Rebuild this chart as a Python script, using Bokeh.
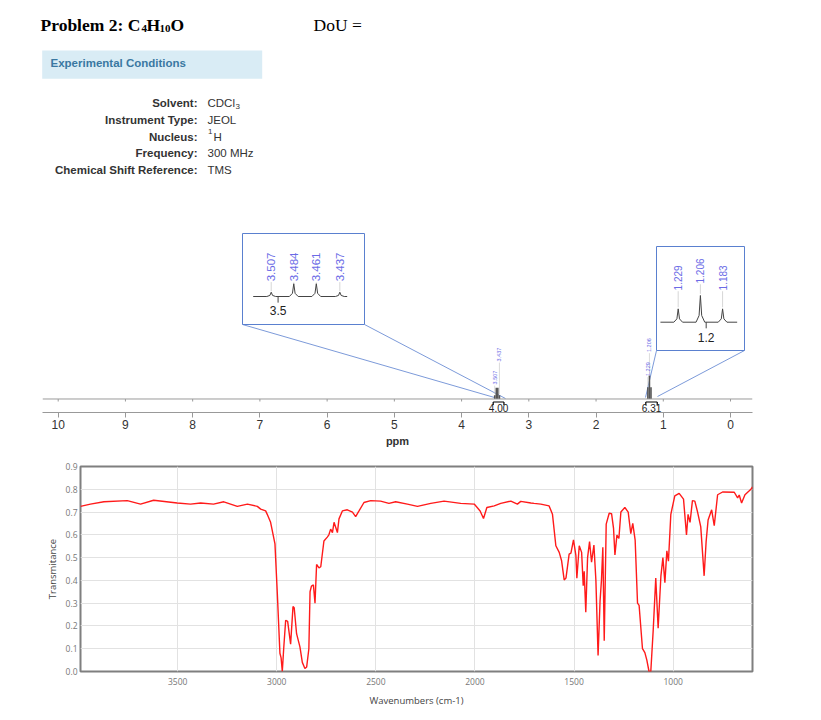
import numpy as np
from bokeh.plotting import figure
from bokeh.models import Range1d, FixedTicker, Span, NumeralTickFormatter
from bokeh.layouts import column
from bokeh.embed import file_html
from bokeh.resources import INLINE
from bokeh.core.properties import value

# ---------------- data ----------------
formula_parts = ["Problem 2: C", "4", "H", "10", "O"]
dou_text = "DoU ="
cond_title = "Experimental Conditions"
cond_labels = ["Solvent:", "Instrument Type:", "Nucleus:", "Frequency:", "Chemical Shift Reference:"]
cond_values = ["CDCl", "JEOL", "H", "300 MHz", "TMS"]
cond_sub = "3"
cond_sup = "1"

nmr_ticks = [10, 9, 8, 7, 6, 5, 4, 3, 2, 1, 0]
q_ppm = [3.507, 3.484, 3.461, 3.437]
q_int = [0.16, 0.48, 0.48, 0.16]
t_ppm = [1.229, 1.206, 1.183]
t_int = [0.5, 1.0, 0.5]
integ_from = [3.53, 1.26]
integ_to = [3.37, 1.09]
integ_text = ["4.00", "6.31"]
overview_labels = ["3.507", "3.437", "1.229", "1.206"]
inset1_tick = [3.5]
inset2_tick = [1.2]

ir_wn = [3990, 3940, 3872, 3754, 3687, 3621, 3502, 3435, 3384, 3319, 3267, 3199, 3148, 3098,
         3081, 3056, 3048, 3031, 3009, 2997, 2984, 2978, 2972, 2965, 2955, 2945, 2930, 2918,
         2912, 2900, 2883, 2871, 2858, 2849, 2838, 2832, 2825, 2815, 2807, 2799, 2787, 2778,
         2762, 2745, 2737, 2728, 2719, 2711, 2694, 2686, 2669, 2644, 2618, 2602, 2585, 2560,
         2526, 2476, 2434, 2400, 2341, 2290, 2223, 2156, 2072, 2004, 1974, 1957, 1940, 1903,
         1870, 1819, 1786, 1769, 1718, 1702, 1668, 1626, 1609, 1592, 1575, 1563, 1550, 1541,
         1525, 1516, 1503, 1491, 1486, 1474, 1462, 1454, 1449, 1441, 1432, 1422, 1412, 1400,
         1390, 1379, 1369, 1362, 1355, 1348, 1338, 1323, 1311, 1301, 1294, 1284, 1274, 1264,
         1244, 1227, 1214, 1204, 1192, 1180, 1172, 1155, 1143, 1133, 1122, 1113, 1101, 1088,
         1076, 1062, 1052, 1042, 1032, 1024, 1012, 992, 970, 948, 933, 925, 915, 903, 891,
         877, 861, 844, 834, 824, 806, 793, 776, 751, 692, 675, 667, 655, 638, 608, 600]
ir_t = [0.725, 0.735, 0.745, 0.75, 0.735, 0.752, 0.74, 0.735, 0.74, 0.735, 0.745, 0.725, 0.735, 0.725,
        0.713, 0.705, 0.69, 0.655, 0.56, 0.34, 0.08, 0.06, 0.0, 0.1, 0.225, 0.22, 0.12, 0.285,
        0.28, 0.166, 0.108, 0.04, 0.013, 0.02, 0.1, 0.35, 0.375, 0.38, 0.30, 0.47, 0.455, 0.46,
        0.573, 0.59, 0.60, 0.625, 0.61, 0.655, 0.61, 0.67, 0.705, 0.71, 0.70, 0.68, 0.705, 0.742,
        0.75, 0.748, 0.738, 0.745, 0.735, 0.725, 0.738, 0.748, 0.738, 0.735, 0.705, 0.672, 0.72, 0.727,
        0.738, 0.748, 0.735, 0.747, 0.74, 0.738, 0.735, 0.727, 0.69, 0.552, 0.523, 0.486, 0.402, 0.41,
        0.515, 0.52, 0.578, 0.51, 0.41, 0.552, 0.523, 0.377, 0.44, 0.26, 0.50, 0.57, 0.48, 0.555,
        0.40, 0.07, 0.31, 0.40, 0.545, 0.135, 0.647, 0.695, 0.693, 0.628, 0.512, 0.599, 0.584, 0.70,
        0.72, 0.70, 0.605, 0.65, 0.577, 0.30, 0.29, 0.10, 0.083, 0.05, 0.0, 0.0, 0.18, 0.41,
        0.19, 0.42, 0.50, 0.39, 0.53, 0.484, 0.69, 0.771, 0.782, 0.757, 0.599, 0.69, 0.655, 0.75, 0.748,
        0.70, 0.635, 0.42, 0.57, 0.665, 0.71, 0.64, 0.776, 0.788, 0.787, 0.762, 0.775, 0.74, 0.776, 0.80, 0.81]
ir_xticks = [3500, 3000, 2500, 2000, 1500, 1000]
ir_yticks = [0.0, 0.1, 0.2, 0.3, 0.4, 0.5, 0.6, 0.7, 0.8, 0.9]

# ---------------- styles ----------------
SANS = value("Liberation Sans")
SERIF = value("Liberation Serif")
BLUE_LBL = "#6b6be6"
BOX = "#5a80cf"


def bare(fig):
    fig.xgrid.visible = False
    fig.ygrid.visible = False
    fig.outline_line_color = None
    fig.background_fill_color = "white"
    fig.border_fill_color = "white"


# ---------------- header ----------------
hdr = figure(width=821, height=200, x_range=Range1d(0, 821), y_range=Range1d(200, 0),
             output_backend="svg", toolbar_location=None, x_axis_location=None, y_axis_location=None,
             min_border_left=0, min_border_right=0, min_border_top=0, min_border_bottom=0,
             frame_align=False)
bare(hdr)
fx = [40, 141, 146, 159, 170]
fy = [24, 27.5, 24, 27.5, 24]
fs = ["17.5px", "11px", "17.5px", "11px", "17.5px"]
for t, x, y, s in zip(formula_parts, fx, fy, fs):
    hdr.text(x=[x], y=[y], text=[t], text_font=SERIF, text_font_size=s, text_font_style="bold",
             text_color="black", text_align="left", text_baseline="alphabetic")
hdr.text(x=[313], y=[24], text=[dou_text], text_font=SERIF, text_font_size="17.5px",
         text_color="black", text_align="left", text_baseline="alphabetic")
hdr.quad(left=[41.7], right=[261.7], top=[50], bottom=[78.3], fill_color="#d9ecf5", line_color=None)
hdr.text(x=[50], y=[62], text=[cond_title], text_font=SANS, text_font_size="11.5px",
         text_font_style="bold", text_color="#3a78a2", text_align="left", text_baseline="middle")
rows_y = [102.7 + 16.75 * i for i in range(len(cond_labels))]
hdr.text(x=[197] * len(cond_labels), y=rows_y, text=cond_labels, text_font=SANS, text_font_size="11.5px",
         text_font_style="bold", text_color="#333333", text_align="right", text_baseline="alphabetic")
hdr.text(x=[207, 207, 213, 207, 207], y=rows_y, text=cond_values, text_font=SANS, text_font_size="11.5px",
         text_color="#333333", text_align="left", text_baseline="alphabetic")
hdr.text(x=[235], y=[rows_y[0] + 3], text=[cond_sub], text_font=SANS, text_font_size="8px",
         text_color="#333333", text_align="left", text_baseline="alphabetic")
hdr.text(x=[207.5], y=[rows_y[2] - 5], text=[cond_sup], text_font=SANS, text_font_size="8px",
         text_color="#333333", text_align="left", text_baseline="alphabetic")

# ---------------- NMR ----------------
nmr = figure(width=821, height=255, x_range=Range1d(10.2335, -0.327), y_range=Range1d(-0.5745, 8.447),
             output_backend="svg", toolbar_location=None, y_axis_location=None,
             min_border_left=42, min_border_right=69, min_border_top=0, min_border_bottom=43,
             frame_align=False)
bare(nmr)
nmr.extra_x_ranges = {"px": Range1d(42, 752), "ins1": Range1d(3.7404, 3.0159),
                      "ins2": Range1d(1.8878, 1.1520)}
nmr.extra_y_ranges = {"py": Range1d(412, 200), "ins1y": Range1d(-4.345, 3.596),
                      "ins2y": Range1d(-3.382, 4.558)}

ax = nmr.xaxis[0]
ax.ticker = FixedTicker(ticks=nmr_ticks)
ax.axis_line_color = "#999999"
ax.major_tick_line_color = "#999999"
ax.major_tick_out = 5
ax.major_tick_in = 0
ax.minor_tick_line_color = None
ax.major_label_standoff = 2
ax.major_label_text_font = "Liberation Sans"
ax.major_label_text_font_size = "12px"
ax.major_label_text_color = "#333333"
ax.axis_label = "ppm"
ax.axis_label_text_font = "Liberation Sans"
ax.axis_label_text_font_size = "11px"
ax.axis_label_text_font_style = "bold"
ax.axis_label_text_color = "#333333"
ax.axis_label_standoff = 3

# baseline of the spectrum with its small ticks
nmr.add_layout(Span(location=0, dimension="width", line_color="#9a9a9a", line_width=1))
nmr.segment(x0=nmr_ticks, x1=nmr_ticks, y0=[398.5] * len(nmr_ticks), y1=[401] * len(nmr_ticks),
            y_range_name="py", line_color="#9a9a9a", line_width=1)

# connectors to insets (page-pixel layout coordinates)
nmr.segment(x0=[242, 364, 656, 744], y0=[324, 324, 350, 350], x1=[494, 505, 645, 657], y1=[397, 398, 397, 396],
            x_range_name="px", y_range_name="py", line_color=BOX, line_width=0.8)
# inset boxes
nmr.quad(left=[242, 656], right=[364, 744], top=[233, 246], bottom=[324, 350],
         x_range_name="px", y_range_name="py", fill_color="white", line_color=BOX, line_width=1)

# overview peaks
all_ppm = q_ppm + t_ppm
all_int = q_int + t_int
nmr.segment(x0=all_ppm, x1=all_ppm, y0=[0] * len(all_ppm), y1=all_int, line_color="#555555", line_width=1.6)

# overview peak labels
ov_x = [float(s) for s in overview_labels]
ov_bottom = [0.62, 1.6, 0.98, 2.0]
ov_peak = [q_int[0], q_int[3], t_int[0], t_int[1]]
nmr.segment(x0=ov_x, x1=ov_x, y0=[h + 0.05 for h in ov_peak], y1=[b - 0.05 for b in ov_bottom],
            line_color="#cccccc", line_width=0.7)
nmr.text(x=ov_x, y=ov_bottom, text=overview_labels, angle=np.pi / 2, text_font=SANS, text_font_size="5.5px",
         text_color=BLUE_LBL, text_align="left", text_baseline="middle")

# integrations
iy = 401.5
mid = [(a + b) / 2 for a, b in zip(integ_from, integ_to)]
nmr.segment(x0=integ_from, x1=integ_to, y0=[iy] * 2, y1=[iy] * 2, y_range_name="py",
            line_color="black", line_width=1.2)
nmr.segment(x0=integ_from + integ_to, x1=integ_from + integ_to, y0=[iy] * 4, y1=[iy + 3] * 4,
            y_range_name="py", line_color="black", line_width=1.2)
nmr.text(x=mid, y=[407.5] * 2, text=integ_text, y_range_name="py", text_font=SANS, text_font_size="10px",
         text_color="#222222", text_align="center", text_baseline="middle")


def peak_path(ppms, ints, left, right, hw):
    xs, ys = [left], [0.0]
    for p, h in sorted(zip(ppms, ints), reverse=True):
        xs += [p + hw, p + hw * 0.3, p, p - hw * 0.3, p - hw]
        ys += [0.0, h * 0.25, h, h * 0.25, 0.0]
    xs.append(right)
    ys.append(0.0)
    return xs, ys


# inset 1 (quartet)
xs, ys = peak_path(q_ppm, q_int, 3.5254, 3.4295, 0.0045)
nmr.line(xs, ys, x_range_name="ins1", y_range_name="ins1y", line_color="#444444", line_width=1)
nmr.segment(x0=inset1_tick, x1=inset1_tick, y0=[0], y1=[-0.23], x_range_name="ins1", y_range_name="ins1y",
            line_color="#444444", line_width=1)
nmr.text(x=inset1_tick, y=[-0.52], text=["3.5"], x_range_name="ins1", y_range_name="ins1y",
         text_font=SANS, text_font_size="12px", text_color="#222222", text_align="center", text_baseline="middle")
lb1 = 0.57
nmr.segment(x0=q_ppm, x1=q_ppm, y0=[h + 0.04 for h in q_int], y1=[lb1 - 0.03] * 4,
            x_range_name="ins1", y_range_name="ins1y", line_color="#cccccc", line_width=0.8)
nmr.text(x=q_ppm, y=[lb1] * 4, text=["%.3f" % v for v in q_ppm], angle=np.pi / 2,
         x_range_name="ins1", y_range_name="ins1y", text_font=SANS, text_font_size="11.5px",
         text_color=BLUE_LBL, text_align="left", text_baseline="middle")

# inset 2 (triplet)
xs, ys = peak_path(t_ppm, t_int, 1.2474, 1.1679, 0.0045)
nmr.line(xs, ys, x_range_name="ins2", y_range_name="ins2y", line_color="#444444", line_width=1)
nmr.segment(x0=inset2_tick, x1=inset2_tick, y0=[0], y1=[-0.23], x_range_name="ins2", y_range_name="ins2y",
            line_color="#444444", line_width=1)
nmr.text(x=inset2_tick, y=[-0.56], text=["1.2"], x_range_name="ins2", y_range_name="ins2y",
         text_font=SANS, text_font_size="12px", text_color="#222222", text_align="center", text_baseline="middle")
lb2 = [1.19, 1.45, 1.19]
nmr.segment(x0=t_ppm, x1=t_ppm, y0=[h + 0.06 for h in t_int], y1=[b - 0.03 for b in lb2],
            x_range_name="ins2", y_range_name="ins2y", line_color="#cccccc", line_width=0.8)
nmr.text(x=t_ppm, y=lb2, text=["%.3f" % v for v in t_ppm], angle=np.pi / 2,
         x_range_name="ins2", y_range_name="ins2y", text_font=SANS, text_font_size="10px",
         text_color=BLUE_LBL, text_align="left", text_baseline="middle")

# ---------------- IR ----------------
ir = figure(width=821, height=265, x_range=Range1d(3990, 600), y_range=Range1d(0, 0.9),
            output_backend="svg", toolbar_location=None,
            min_border_left=80, min_border_right=69, min_border_top=11, min_border_bottom=49,
            frame_align=False)
ir.background_fill_color = "white"
ir.border_fill_color = "white"
ir.outline_line_color = "#7f7f7f"
ir.outline_line_width = 2
ir.xaxis.ticker = FixedTicker(ticks=ir_xticks)
ir.yaxis.ticker = FixedTicker(ticks=ir_yticks)
ir.yaxis.formatter = NumeralTickFormatter(format="0.0")
for a in (ir.xaxis[0], ir.yaxis[0]):
    a.axis_line_color = None
    a.major_tick_line_color = None
    a.minor_tick_line_color = None
    a.major_tick_out = 0
    a.major_tick_in = 0
    a.major_label_text_font = "Open Sans"
    a.major_label_text_font_size = "8.5px"
    a.major_label_text_color = "#777777"
    a.axis_label_text_font = "Open Sans"
    a.axis_label_text_font_size = "9.5px"
    a.axis_label_text_font_style = "normal"
    a.axis_label_text_color = "#444444"
ir.xaxis[0].axis_label = "Wavenumbers (cm-1)"
ir.yaxis[0].axis_label = "Transmitance"
ir.xaxis[0].major_label_standoff = 6
ir.xaxis[0].axis_label_standoff = 6
ir.yaxis[0].major_label_standoff = 3
ir.yaxis[0].axis_label_standoff = 4
ir.xgrid.grid_line_color = "#e2e2e2"
ir.ygrid.grid_line_color = "#e2e2e2"
ir.xgrid.grid_line_width = 1
ir.ygrid.grid_line_width = 1
ir.line(ir_wn, ir_t, line_color="#ff1a1a", line_width=1.4)

layout = column(hdr, nmr, ir, spacing=0)
open("out.html", "w").write(file_html(layout, INLINE))
